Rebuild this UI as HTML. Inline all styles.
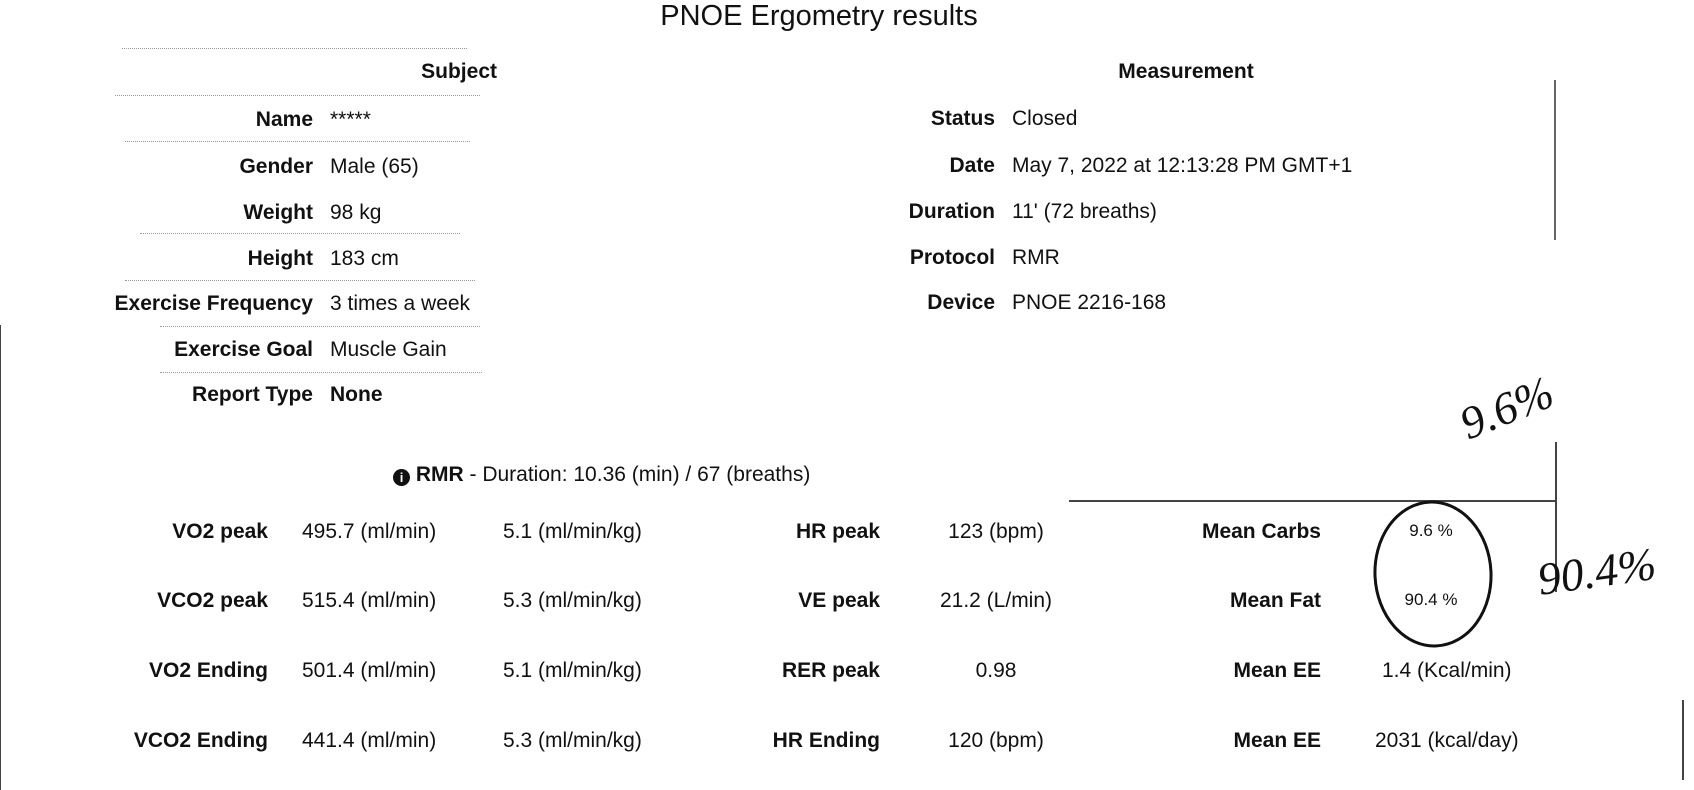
<!DOCTYPE html>
<html><head><meta charset="utf-8"><style>
html,body{margin:0;padding:0;background:#fff}
body{width:1694px;height:790px;position:relative;overflow:hidden;font-family:"Liberation Sans Narrow","Liberation Sans",sans-serif;color:#111}
.t{position:absolute;white-space:nowrap;font-size:21px;line-height:1}
.b{font-weight:bold}
.r{transform:translateX(-100%)}
.c{transform:translateX(-50%)}
.ln{position:absolute;height:0;border-top:1px dotted #999}
</style></head><body>
<div class="t c" style="left:819px;top:2px;font-size:29px;font-family:'Liberation Sans',sans-serif">PNOE Ergometry results</div>

<div class="ln" style="left:122px;top:48px;width:345px"></div>
<div class="ln" style="left:115px;top:95px;width:365px"></div>
<div class="ln" style="left:125px;top:141px;width:345px"></div>
<div class="ln" style="left:140px;top:233px;width:320px"></div>
<div class="ln" style="left:125px;top:280px;width:350px"></div>
<div class="ln" style="left:160px;top:326px;width:320px"></div>
<div class="ln" style="left:160px;top:372px;width:322px"></div>

<div class="t b r" style="left:497px;top:61px">Subject</div>
<div class="t b r" style="left:313px;top:109px">Name</div><div class="t" style="left:330px;top:109px">*****</div>
<div class="t b r" style="left:313px;top:156px">Gender</div><div class="t" style="left:330px;top:156px">Male (65)</div>
<div class="t b r" style="left:313px;top:202px">Weight</div><div class="t" style="left:330px;top:202px">98 kg</div>
<div class="t b r" style="left:313px;top:248px">Height</div><div class="t" style="left:330px;top:248px">183 cm</div>
<div class="t b r" style="left:313px;top:293px">Exercise Frequency</div><div class="t" style="left:330px;top:293px">3 times a week</div>
<div class="t b r" style="left:313px;top:339px">Exercise Goal</div><div class="t" style="left:330px;top:339px">Muscle Gain</div>
<div class="t b r" style="left:313px;top:384px">Report Type</div><div class="t b" style="left:330px;top:384px">None</div>

<div class="t b c" style="left:1186px;top:61px">Measurement</div>
<div class="t b r" style="left:995px;top:108px">Status</div><div class="t" style="left:1012px;top:108px">Closed</div>
<div class="t b r" style="left:995px;top:155px">Date</div><div class="t" style="left:1012px;top:155px">May 7, 2022 at 12:13:28 PM GMT+1</div>
<div class="t b r" style="left:995px;top:201px">Duration</div><div class="t" style="left:1012px;top:201px">11' (72 breaths)</div>
<div class="t b r" style="left:995px;top:247px">Protocol</div><div class="t" style="left:1012px;top:247px">RMR</div>
<div class="t b r" style="left:995px;top:292px">Device</div><div class="t" style="left:1012px;top:292px">PNOE 2216-168</div>

<div style="position:absolute;left:1069px;top:500px;width:486px;height:2px;background:#444"></div>
<div style="position:absolute;left:1555px;top:442px;width:2px;height:150px;background:#444"></div>
<div style="position:absolute;left:1554px;top:80px;width:2px;height:160px;background:#666"></div>
<div style="position:absolute;left:0;top:325px;width:1px;height:465px;background:#444"></div>
<div style="position:absolute;left:1682px;top:700px;width:2px;height:80px;background:#444"></div>

<div class="t" style="left:393px;top:464px"><span style="display:inline-block;width:17px;height:17px;border-radius:50%;background:#111;color:#fff;font-size:13px;text-align:center;line-height:17px;font-weight:bold;vertical-align:-1px">i</span> <b>RMR</b> - Duration: 10.36 (min) / 67 (breaths)</div>

<div class="t b r" style="left:268px;top:521px">VO2 peak</div><div class="t" style="left:302px;top:521px">495.7 (ml/min)</div><div class="t" style="left:503px;top:521px">5.1 (ml/min/kg)</div>
<div class="t b r" style="left:880px;top:521px">HR peak</div><div class="t c" style="left:996px;top:521px">123 (bpm)</div>
<div class="t b r" style="left:1321px;top:521px">Mean Carbs</div><div class="t c" style="left:1431px;top:522px;font-size:17px">9.6 %</div>

<div class="t b r" style="left:268px;top:590px">VCO2 peak</div><div class="t" style="left:302px;top:590px">515.4 (ml/min)</div><div class="t" style="left:503px;top:590px">5.3 (ml/min/kg)</div>
<div class="t b r" style="left:880px;top:590px">VE peak</div><div class="t c" style="left:996px;top:590px">21.2 (L/min)</div>
<div class="t b r" style="left:1321px;top:590px">Mean Fat</div><div class="t c" style="left:1431px;top:591px;font-size:17px">90.4 %</div>

<div class="t b r" style="left:268px;top:660px">VO2 Ending</div><div class="t" style="left:302px;top:660px">501.4 (ml/min)</div><div class="t" style="left:503px;top:660px">5.1 (ml/min/kg)</div>
<div class="t b r" style="left:880px;top:660px">RER peak</div><div class="t c" style="left:996px;top:660px">0.98</div>
<div class="t b r" style="left:1321px;top:660px">Mean EE</div><div class="t" style="left:1382px;top:660px">1.4 (Kcal/min)</div>

<div class="t b r" style="left:268px;top:730px">VCO2 Ending</div><div class="t" style="left:302px;top:730px">441.4 (ml/min)</div><div class="t" style="left:503px;top:730px">5.3 (ml/min/kg)</div>
<div class="t b r" style="left:880px;top:730px">HR Ending</div><div class="t c" style="left:996px;top:730px">120 (bpm)</div>
<div class="t b r" style="left:1321px;top:730px">Mean EE</div><div class="t" style="left:1375px;top:730px">2031 (kcal/day)</div>

<svg style="position:absolute;left:0;top:0" width="1694" height="790">
<ellipse cx="1433" cy="574" rx="58" ry="72" fill="none" stroke="#111" stroke-width="3" transform="rotate(-3 1433 574)"/>
<text x="1468" y="440" font-family="Liberation Serif,serif" font-style="italic" font-size="46" fill="#111" transform="rotate(-22 1468 440)">9.6%</text>
<text x="1540" y="595" font-family="Liberation Serif,serif" font-style="italic" font-size="46" fill="#111" transform="rotate(-8 1540 595)">90.4%</text>
</svg>
</body></html>
